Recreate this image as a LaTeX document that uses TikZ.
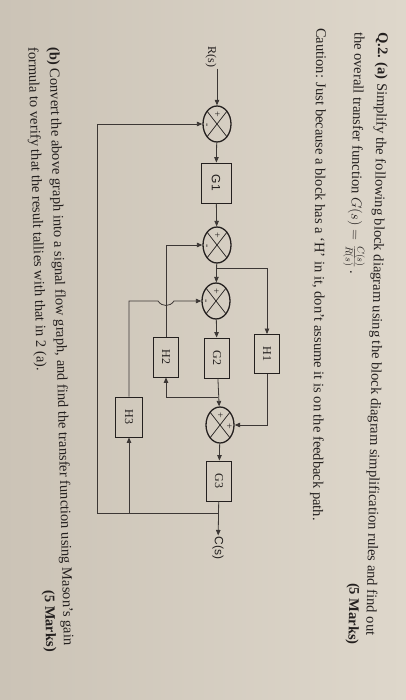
\documentclass[tikz,border=0pt]{standalone}
\usepackage{graphicx}
\usepackage{fontspec}
\setmainfont{Liberation Serif}
\newfontfamily\lsans{Liberation Sans}
\usetikzlibrary{arrows.meta,shapes.geometric,calc}
\definecolor{paperL}{RGB}{203,195,182}
\definecolor{paperR}{RGB}{222,215,203}
\definecolor{ink}{RGB}{36,32,31}
\definecolor{wirec}{RGB}{60,55,53}
\begin{document}
\begin{tikzpicture}[x=1pt,y=-1pt,
  txt/.style={inner sep=0pt,text=ink,font=\fontsize{14.5}{16}\selectfont},
  blk/.style={draw=ink,line width=0.9pt,minimum width=25pt,minimum height=40pt,inner sep=0pt,text=ink,font=\fontsize{12}{12}\selectfont},
  sumj/.style={ellipse,draw=ink,line width=1.3pt,minimum width=28pt,minimum height=36pt,inner sep=0pt,
    path picture={\draw[ink,line width=0.7pt] (path picture bounding box.north west)--(path picture bounding box.south east)
      (path picture bounding box.north east)--(path picture bounding box.south west);}},
  sgn/.style={inner sep=0pt,text=ink,font=\fontsize{10}{10}\selectfont},
  lbl/.style={inner sep=1pt,text=ink,font=\fontsize{12}{12}\selectfont},
  wire/.style={draw=wirec,line width=0.8pt},
  arr/.style={wire,-{Triangle[length=5.5pt,width=4.5pt]}},
]
\shade[left color=paperL,right color=paperR] (0,0) rectangle (406,700);
\useasboundingbox (0,0) rectangle (406,700);

% text
\node[txt,anchor=west,rotate=-91.15] (t1) at (382,32) {\textbf{Q.2.} \textbf{(a)} Simplify the following block diagram using the block diagram simplification rules and find out};
\node[txt,anchor=west,rotate=-91.0] (t2) at (358,32) {the overall transfer function $G(s)=\frac{C(s)}{R(s)}$\,.};
\node[txt,anchor=east,rotate=-91.0] (t2m) at (352,645) {\textbf{(5 Marks)}};
\node[txt,anchor=west,rotate=-90.4] (t3) at (320,28) {Caution: Just because a block has a `H' in it, don't assume it is on the feedback path.};
\node[txt,anchor=west,rotate=-88.6] (t4) at (53,47) {\textbf{(b)} Convert the above graph into a signal flow graph, and find the transfer function using Mason's gain};
\node[txt,anchor=west,rotate=-88.5] (t5) at (32,47) {formula to verify that the result tallies with that in 2 (a).};
\node[txt,anchor=east,rotate=-88.3] (t5m) at (50,652) {\textbf{(5 Marks)}};

% blocks and junctions
\node[sumj] (s1) at (217,124) {};
\node[blk,minimum width=30pt] (g1) at (216,183) {\rotatebox{-90}{\lsans G1}};
\node[sumj] (s2) at (217,245) {};
\node[sumj] (s3) at (216,301) {};
\node[blk] (g2) at (217,358) {\rotatebox{-90}{G2}};
\node[blk] (h2) at (166,357) {\rotatebox{-90}{H2}};
\node[blk,minimum height=39pt] (h1) at (267,354) {\rotatebox{-90}{H1}};
\node[sumj] (s4) at (220,425) {};
\node[blk] (g3) at (219,481) {\rotatebox{-90}{G3}};
\node[blk,minimum width=27pt] (h3) at (129,417) {\rotatebox{-90}{H3}};
\node[lbl] (R) at (211,57) {\rotatebox{-90}{R(s)}};
\node[lbl] (C) at (218,548) {\rotatebox{-90}{\lsans C(s)}};

% signs
\node[sgn] (s1p) at ($(s1)+(0,-10)$) {\rotatebox{-90}{+}};
\node[sgn] (s1m) at ($(s1)+(-11,1)$) {\rotatebox{-90}{-}};
\node[sgn] (s2p) at ($(s2)+(0,-10)$) {\rotatebox{-90}{+}};
\node[sgn] (s2m) at ($(s2)+(-11,1)$) {\rotatebox{-90}{-}};
\node[sgn] (s3p) at ($(s3)+(0,-10)$) {\rotatebox{-90}{+}};
\node[sgn] (s3m) at ($(s3)+(-11,0)$) {\rotatebox{-90}{-}};
\node[sgn] (s4p) at ($(s4)+(0,-10)$) {\rotatebox{-90}{+}};
\node[sgn] (s4q) at ($(s4)+(9,1)$) {\rotatebox{-90}{+}};

% points
\coordinate (b1) at (217,268);
\coordinate (b2) at (218,397);
\coordinate (b3) at (218,513);
\coordinate (fb) at (97,513);
\coordinate (b4) at (129,513);
\coordinate (hp1) at (158,301);
\coordinate (hp2) at (174,301);

% connectors
\draw[arr] (R.south -| s1.north) -- (s1.north);
\draw[arr] (s1) -- (g1);
\draw[arr] (g1) -- (s2);
\draw[arr] (s2) -- (s3);
\draw[arr] (b1) -| (h1);
\draw[arr] (s3) -- (g2);
\draw[arr] (g2) -- (s4);
\draw[arr] (b2) -| (h2);
\draw[arr] (h2) |- (s2);
\draw[arr] (h1) |- (s4);
\draw[arr] (s4) -- (g3);
\draw[arr] (g3) -- (C);
\draw[arr] (b3) -- (fb) |- (s1);
\draw[arr] (b4) -- (h3);
\draw[arr] (h3.north) |- (hp1) .. controls +(4,6) and +(-4,6) .. (hp2) -- (s3.west);
\end{tikzpicture}
\end{document}
